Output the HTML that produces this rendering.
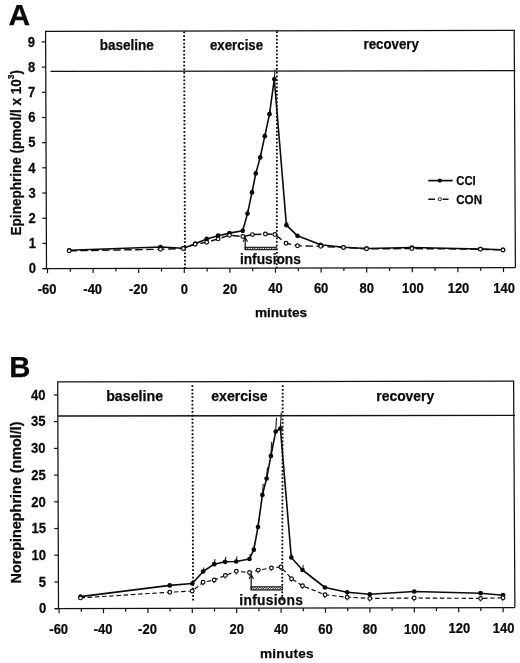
<!DOCTYPE html>
<html><head><meta charset="utf-8"><title>Figure</title>
<style>
html,body{margin:0;padding:0;background:#fff;}
svg{display:block;}
text{font-family:"Liberation Sans", Arial, Helvetica, sans-serif;font-weight:bold;fill:#0a0a0a;stroke:#0a0a0a;stroke-width:0.25px;}
</style></head><body>
<svg width="520" height="663" viewBox="0 0 520 663">
<rect width="520" height="663" fill="#fff"/>
<defs><pattern id="hatch" width="2.4" height="3" patternUnits="userSpaceOnUse"><rect width="2.4" height="3" fill="#fff"/><path d="M0,3 L2.4,0" stroke="#111" stroke-width="1"/></pattern></defs>
<text x="8.6" y="24.8" font-size="30" text-anchor="start">A</text>
<text x="9.2" y="377.3" font-size="29.3" text-anchor="start">B</text>
<path d="M46.5,268.6 L45.6,31.4 L514.2,30.4 L515.4,267.5" fill="none" stroke="#111" stroke-width="1.25" stroke-linejoin="miter"/>
<line x1="42.6" y1="268.6" x2="515.4" y2="267.5" stroke="#111" stroke-width="1.25"/>
<line x1="50.5" y1="71.4" x2="515.4" y2="70.6" stroke="#111" stroke-width="1.3"/>
<line x1="42.6" y1="268.6" x2="46.5" y2="268.6" stroke="#111" stroke-width="1.2"/>
<text transform="translate(36.0,273.3) scale(0.92,1)" font-size="14.2" text-anchor="end">0</text>
<line x1="42.5" y1="243.4" x2="46.4" y2="243.4" stroke="#111" stroke-width="1.2"/>
<text transform="translate(35.9,248.1) scale(0.92,1)" font-size="14.2" text-anchor="end">1</text>
<line x1="42.4" y1="218.2" x2="46.3" y2="218.2" stroke="#111" stroke-width="1.2"/>
<text transform="translate(35.8,222.9) scale(0.92,1)" font-size="14.2" text-anchor="end">2</text>
<line x1="42.3" y1="193.0" x2="46.2" y2="193.0" stroke="#111" stroke-width="1.2"/>
<text transform="translate(35.7,197.7) scale(0.92,1)" font-size="14.2" text-anchor="end">3</text>
<line x1="42.2" y1="167.8" x2="46.1" y2="167.8" stroke="#111" stroke-width="1.2"/>
<text transform="translate(35.6,172.5) scale(0.92,1)" font-size="14.2" text-anchor="end">4</text>
<line x1="42.1" y1="142.7" x2="46.0" y2="142.7" stroke="#111" stroke-width="1.2"/>
<text transform="translate(35.5,147.4) scale(0.92,1)" font-size="14.2" text-anchor="end">5</text>
<line x1="42.0" y1="117.5" x2="45.9" y2="117.5" stroke="#111" stroke-width="1.2"/>
<text transform="translate(35.4,122.2) scale(0.92,1)" font-size="14.2" text-anchor="end">6</text>
<line x1="41.9" y1="92.3" x2="45.8" y2="92.3" stroke="#111" stroke-width="1.2"/>
<text transform="translate(35.3,97.0) scale(0.92,1)" font-size="14.2" text-anchor="end">7</text>
<line x1="41.8" y1="67.1" x2="45.7" y2="67.1" stroke="#111" stroke-width="1.2"/>
<text transform="translate(35.2,71.8) scale(0.92,1)" font-size="14.2" text-anchor="end">8</text>
<line x1="41.7" y1="41.9" x2="45.6" y2="41.9" stroke="#111" stroke-width="1.2"/>
<text transform="translate(35.1,46.6) scale(0.92,1)" font-size="14.2" text-anchor="end">9</text>
<line x1="47.5" y1="268.6" x2="47.5" y2="273.2" stroke="#111" stroke-width="1.2"/>
<text transform="translate(47.1,293.9) scale(0.915,1)" font-size="14.2" text-anchor="middle">-60</text>
<line x1="70.3" y1="268.5" x2="70.3" y2="271.7" stroke="#111" stroke-width="1.2"/>
<line x1="93.1" y1="268.5" x2="93.1" y2="273.1" stroke="#111" stroke-width="1.2"/>
<text transform="translate(92.7,293.8) scale(0.915,1)" font-size="14.2" text-anchor="middle">-40</text>
<line x1="115.9" y1="268.4" x2="115.9" y2="271.6" stroke="#111" stroke-width="1.2"/>
<line x1="138.7" y1="268.4" x2="138.7" y2="273.0" stroke="#111" stroke-width="1.2"/>
<text transform="translate(138.3,293.7) scale(0.915,1)" font-size="14.2" text-anchor="middle">-20</text>
<line x1="161.5" y1="268.3" x2="161.5" y2="271.5" stroke="#111" stroke-width="1.2"/>
<line x1="184.3" y1="268.3" x2="184.3" y2="272.9" stroke="#111" stroke-width="1.2"/>
<text transform="translate(184.3,293.6) scale(0.915,1)" font-size="14.2" text-anchor="middle">0</text>
<line x1="207.1" y1="268.2" x2="207.1" y2="271.4" stroke="#111" stroke-width="1.2"/>
<line x1="229.9" y1="268.2" x2="229.9" y2="272.8" stroke="#111" stroke-width="1.2"/>
<text transform="translate(229.9,293.5) scale(0.915,1)" font-size="14.2" text-anchor="middle">20</text>
<line x1="252.7" y1="268.1" x2="252.7" y2="271.3" stroke="#111" stroke-width="1.2"/>
<line x1="275.5" y1="268.1" x2="275.5" y2="272.7" stroke="#111" stroke-width="1.2"/>
<text transform="translate(275.5,293.4) scale(0.915,1)" font-size="14.2" text-anchor="middle">40</text>
<line x1="298.3" y1="268.0" x2="298.3" y2="271.2" stroke="#111" stroke-width="1.2"/>
<line x1="321.1" y1="268.0" x2="321.1" y2="272.6" stroke="#111" stroke-width="1.2"/>
<text transform="translate(321.1,293.3) scale(0.915,1)" font-size="14.2" text-anchor="middle">60</text>
<line x1="343.9" y1="267.9" x2="343.9" y2="271.1" stroke="#111" stroke-width="1.2"/>
<line x1="366.7" y1="267.8" x2="366.7" y2="272.4" stroke="#111" stroke-width="1.2"/>
<text transform="translate(366.7,293.2) scale(0.915,1)" font-size="14.2" text-anchor="middle">80</text>
<line x1="389.5" y1="267.8" x2="389.5" y2="271.0" stroke="#111" stroke-width="1.2"/>
<line x1="412.3" y1="267.7" x2="412.3" y2="272.3" stroke="#111" stroke-width="1.2"/>
<text transform="translate(412.9,293.1) scale(0.915,1)" font-size="14.2" text-anchor="middle">100</text>
<line x1="435.1" y1="267.7" x2="435.1" y2="270.9" stroke="#111" stroke-width="1.2"/>
<line x1="457.9" y1="267.6" x2="457.9" y2="272.2" stroke="#111" stroke-width="1.2"/>
<text transform="translate(458.5,293.0) scale(0.915,1)" font-size="14.2" text-anchor="middle">120</text>
<line x1="480.7" y1="267.6" x2="480.7" y2="270.8" stroke="#111" stroke-width="1.2"/>
<line x1="503.5" y1="267.5" x2="503.5" y2="272.1" stroke="#111" stroke-width="1.2"/>
<text transform="translate(504.1,292.9) scale(0.915,1)" font-size="14.2" text-anchor="middle">140</text>
<line x1="184.1" y1="31.6" x2="185.0" y2="268" stroke="#0a0a0a" stroke-width="1.85" stroke-dasharray="1.75 1.93"/>
<line x1="276.9" y1="31.3" x2="276.8" y2="268" stroke="#0a0a0a" stroke-width="1.85" stroke-dasharray="1.75 1.93"/>
<line x1="242.7" y1="230.8" x2="243.5" y2="227.8" stroke="#1a1a1a" stroke-width="1.1"/>
<line x1="247.5" y1="213.6" x2="248.3" y2="209.6" stroke="#1a1a1a" stroke-width="1.1"/>
<line x1="252.0" y1="192.4" x2="252.8" y2="188.4" stroke="#1a1a1a" stroke-width="1.1"/>
<line x1="255.8" y1="173.4" x2="256.6" y2="169.4" stroke="#1a1a1a" stroke-width="1.1"/>
<line x1="260.2" y1="157.4" x2="261.0" y2="153.4" stroke="#1a1a1a" stroke-width="1.1"/>
<line x1="264.8" y1="136.2" x2="265.6" y2="132.2" stroke="#1a1a1a" stroke-width="1.1"/>
<line x1="269.5" y1="114.2" x2="270.3" y2="110.2" stroke="#1a1a1a" stroke-width="1.1"/>
<line x1="274.3" y1="79.0" x2="275.1" y2="69.5" stroke="#1a1a1a" stroke-width="1.1"/>
<line x1="286.4" y1="225.2" x2="287.2" y2="222.2" stroke="#1a1a1a" stroke-width="1.1"/>
<polyline points="69.2,250.8 160.5,249.3 183.4,248.5 195.2,244.2 206.7,242.3 218.1,238.9 229.5,235.2 242.8,236.5 252.4,234.6 265.4,234.0 274.8,234.4 286.0,243.3 297.5,245.8 320.7,246.3 343.5,247.6 366.5,248.8 411.8,248.6 480.4,249.2 503.0,250.0" fill="none" stroke="#0a0a0a" stroke-width="1.4" stroke-dasharray="7.5 3.5"/>
<polyline points="69.2,250.3 160.5,247.0 183.5,248.2 195.2,243.7 206.7,238.9 218.1,235.7 229.5,233.1 242.7,230.8 247.5,213.6 252.0,192.4 255.8,173.4 260.2,157.4 264.8,136.2 269.5,114.2 274.3,79.0 286.4,225.2 297.5,235.8 320.7,244.8 343.5,247.3 366.5,248.5 411.8,247.5 480.4,249.0 503.0,249.8" fill="none" stroke="#0a0a0a" stroke-width="1.6" stroke-linejoin="round"/>
<circle cx="69.2" cy="250.3" r="2.35" fill="#0a0a0a"/>
<circle cx="160.5" cy="247.0" r="2.35" fill="#0a0a0a"/>
<circle cx="183.5" cy="248.2" r="2.35" fill="#0a0a0a"/>
<circle cx="195.2" cy="243.7" r="2.35" fill="#0a0a0a"/>
<circle cx="206.7" cy="238.9" r="2.35" fill="#0a0a0a"/>
<circle cx="218.1" cy="235.7" r="2.35" fill="#0a0a0a"/>
<circle cx="229.5" cy="233.1" r="2.35" fill="#0a0a0a"/>
<circle cx="242.7" cy="230.8" r="2.35" fill="#0a0a0a"/>
<circle cx="247.5" cy="213.6" r="2.35" fill="#0a0a0a"/>
<circle cx="252.0" cy="192.4" r="2.35" fill="#0a0a0a"/>
<circle cx="255.8" cy="173.4" r="2.35" fill="#0a0a0a"/>
<circle cx="260.2" cy="157.4" r="2.35" fill="#0a0a0a"/>
<circle cx="264.8" cy="136.2" r="2.35" fill="#0a0a0a"/>
<circle cx="269.5" cy="114.2" r="2.35" fill="#0a0a0a"/>
<circle cx="274.3" cy="79.0" r="2.35" fill="#0a0a0a"/>
<circle cx="286.4" cy="225.2" r="2.35" fill="#0a0a0a"/>
<circle cx="297.5" cy="235.8" r="2.35" fill="#0a0a0a"/>
<circle cx="320.7" cy="244.8" r="2.35" fill="#0a0a0a"/>
<circle cx="343.5" cy="247.3" r="2.35" fill="#0a0a0a"/>
<circle cx="366.5" cy="248.5" r="2.35" fill="#0a0a0a"/>
<circle cx="411.8" cy="247.5" r="2.35" fill="#0a0a0a"/>
<circle cx="480.4" cy="249.0" r="2.35" fill="#0a0a0a"/>
<circle cx="503.0" cy="249.8" r="2.35" fill="#0a0a0a"/>
<circle cx="69.2" cy="250.8" r="1.85" fill="#fff" stroke="#0a0a0a" stroke-width="1.2"/>
<circle cx="160.5" cy="249.3" r="1.85" fill="#fff" stroke="#0a0a0a" stroke-width="1.2"/>
<circle cx="183.4" cy="248.5" r="1.85" fill="#fff" stroke="#0a0a0a" stroke-width="1.2"/>
<circle cx="195.2" cy="244.2" r="1.85" fill="#fff" stroke="#0a0a0a" stroke-width="1.2"/>
<circle cx="206.7" cy="242.3" r="1.85" fill="#fff" stroke="#0a0a0a" stroke-width="1.2"/>
<circle cx="218.1" cy="238.9" r="1.85" fill="#fff" stroke="#0a0a0a" stroke-width="1.2"/>
<circle cx="229.5" cy="235.2" r="1.85" fill="#fff" stroke="#0a0a0a" stroke-width="1.2"/>
<circle cx="242.8" cy="236.5" r="1.85" fill="#fff" stroke="#0a0a0a" stroke-width="1.2"/>
<circle cx="252.4" cy="234.6" r="1.85" fill="#fff" stroke="#0a0a0a" stroke-width="1.2"/>
<circle cx="265.4" cy="234.0" r="1.85" fill="#fff" stroke="#0a0a0a" stroke-width="1.2"/>
<circle cx="274.8" cy="234.4" r="1.85" fill="#fff" stroke="#0a0a0a" stroke-width="1.2"/>
<circle cx="286.0" cy="243.3" r="1.85" fill="#fff" stroke="#0a0a0a" stroke-width="1.2"/>
<circle cx="297.5" cy="245.8" r="1.85" fill="#fff" stroke="#0a0a0a" stroke-width="1.2"/>
<circle cx="320.7" cy="246.3" r="1.85" fill="#fff" stroke="#0a0a0a" stroke-width="1.2"/>
<circle cx="343.5" cy="247.6" r="1.85" fill="#fff" stroke="#0a0a0a" stroke-width="1.2"/>
<circle cx="366.5" cy="248.8" r="1.85" fill="#fff" stroke="#0a0a0a" stroke-width="1.2"/>
<circle cx="411.8" cy="248.6" r="1.85" fill="#fff" stroke="#0a0a0a" stroke-width="1.2"/>
<circle cx="480.4" cy="249.2" r="1.85" fill="#fff" stroke="#0a0a0a" stroke-width="1.2"/>
<circle cx="503.0" cy="250.0" r="1.85" fill="#fff" stroke="#0a0a0a" stroke-width="1.2"/>
<text x="255.0" y="317.0" font-size="13.6" textLength="52.0" lengthAdjust="spacing">minutes</text>
<text x="99.7" y="49.8" font-size="13.8" text-anchor="start" textLength="54.2" lengthAdjust="spacingAndGlyphs">baseline</text>
<text x="210" y="49.8" font-size="13.8" text-anchor="start" textLength="53.1" lengthAdjust="spacingAndGlyphs">exercise</text>
<text x="363.5" y="49.3" font-size="13.8" text-anchor="start" textLength="55.3" lengthAdjust="spacingAndGlyphs">recovery</text>
<rect x="245.2" y="247.3" width="31.0" height="2.3999999999999773" fill="url(#hatch)" stroke="#111" stroke-width="1.1"/>
<line x1="245.2" y1="249.7" x2="245.2" y2="237.2" stroke="#111" stroke-width="1.25"/>
<path d="M243.1,241.79999999999998 L245.2,237.2 L247.5,241.79999999999998" fill="none" stroke="#111" stroke-width="1.1"/>
<text x="239.9" y="263.8" font-size="14.3" textLength="61.0" lengthAdjust="spacingAndGlyphs">infusions</text>
<text transform="translate(20.6,235.4) rotate(-90)" font-size="13.8" textLength="165.4" lengthAdjust="spacingAndGlyphs">Epinephrine (pmol/l x 10<tspan font-size="8.5" dy="-6.6">3</tspan><tspan dy="6.6">)</tspan></text>
<line x1="428.3" y1="180.6" x2="452.7" y2="180.6" stroke="#0a0a0a" stroke-width="1.7"/>
<circle cx="439.8" cy="180.6" r="2.1" fill="#0a0a0a"/>
<line x1="428.3" y1="199.2" x2="448.5" y2="199.2" stroke="#111" stroke-width="1.35" stroke-dasharray="6.7 5.6 0 2 6 0"/>
<circle cx="439.8" cy="199.2" r="1.6" fill="#fff" stroke="#111" stroke-width="0.9"/>
<text x="456.2" y="185" font-size="12.8" text-anchor="start" textLength="19.6" lengthAdjust="spacingAndGlyphs">CCI</text>
<text x="456.2" y="203.5" font-size="12.8" text-anchor="start" textLength="25.9" lengthAdjust="spacingAndGlyphs">CON</text>
<path d="M58.5,608.7 L57.7,381.9 L513.6,381.2 L514.9,607.6" fill="none" stroke="#111" stroke-width="1.25" stroke-linejoin="miter"/>
<line x1="54.6" y1="608.7" x2="514.9" y2="607.6" stroke="#111" stroke-width="1.25"/>
<line x1="57.9" y1="416" x2="514.9" y2="415.4" stroke="#111" stroke-width="1.3"/>
<line x1="54.6" y1="608.7" x2="58.5" y2="608.7" stroke="#111" stroke-width="1.2"/>
<text transform="translate(46.2,613.4) scale(0.92,1)" font-size="14.2" text-anchor="end">0</text>
<line x1="54.5" y1="582.0" x2="58.4" y2="582.0" stroke="#111" stroke-width="1.2"/>
<text transform="translate(46.1,586.7) scale(0.92,1)" font-size="14.2" text-anchor="end">5</text>
<line x1="54.4" y1="555.2" x2="58.3" y2="555.2" stroke="#111" stroke-width="1.2"/>
<text transform="translate(46.0,560.0) scale(0.92,1)" font-size="14.2" text-anchor="end">10</text>
<line x1="54.3" y1="528.5" x2="58.2" y2="528.5" stroke="#111" stroke-width="1.2"/>
<text transform="translate(45.9,533.2) scale(0.92,1)" font-size="14.2" text-anchor="end">15</text>
<line x1="54.2" y1="501.8" x2="58.1" y2="501.8" stroke="#111" stroke-width="1.2"/>
<text transform="translate(45.8,506.5) scale(0.92,1)" font-size="14.2" text-anchor="end">20</text>
<line x1="54.1" y1="475.1" x2="58.0" y2="475.1" stroke="#111" stroke-width="1.2"/>
<text transform="translate(45.7,479.8) scale(0.92,1)" font-size="14.2" text-anchor="end">25</text>
<line x1="54.0" y1="448.4" x2="57.9" y2="448.4" stroke="#111" stroke-width="1.2"/>
<text transform="translate(45.6,453.1) scale(0.92,1)" font-size="14.2" text-anchor="end">30</text>
<line x1="53.9" y1="421.6" x2="57.8" y2="421.6" stroke="#111" stroke-width="1.2"/>
<text transform="translate(45.5,426.3) scale(0.92,1)" font-size="14.2" text-anchor="end">35</text>
<line x1="53.8" y1="394.9" x2="57.7" y2="394.9" stroke="#111" stroke-width="1.2"/>
<text transform="translate(45.4,399.6) scale(0.92,1)" font-size="14.2" text-anchor="end">40</text>
<line x1="59.1" y1="608.7" x2="59.1" y2="613.3" stroke="#111" stroke-width="1.2"/>
<text transform="translate(58.7,634.3) scale(0.915,1)" font-size="14.2" text-anchor="middle">-60</text>
<line x1="81.3" y1="608.6" x2="81.3" y2="611.8" stroke="#111" stroke-width="1.2"/>
<line x1="103.5" y1="608.6" x2="103.5" y2="613.2" stroke="#111" stroke-width="1.2"/>
<text transform="translate(103.1,634.2) scale(0.915,1)" font-size="14.2" text-anchor="middle">-40</text>
<line x1="125.7" y1="608.5" x2="125.7" y2="611.7" stroke="#111" stroke-width="1.2"/>
<line x1="147.9" y1="608.5" x2="147.9" y2="613.1" stroke="#111" stroke-width="1.2"/>
<text transform="translate(147.5,634.1) scale(0.915,1)" font-size="14.2" text-anchor="middle">-20</text>
<line x1="170.1" y1="608.4" x2="170.1" y2="611.6" stroke="#111" stroke-width="1.2"/>
<line x1="192.3" y1="608.4" x2="192.3" y2="613.0" stroke="#111" stroke-width="1.2"/>
<text transform="translate(192.3,634.0) scale(0.915,1)" font-size="14.2" text-anchor="middle">0</text>
<line x1="214.5" y1="608.3" x2="214.5" y2="611.5" stroke="#111" stroke-width="1.2"/>
<line x1="236.7" y1="608.3" x2="236.7" y2="612.9" stroke="#111" stroke-width="1.2"/>
<text transform="translate(236.7,633.9) scale(0.915,1)" font-size="14.2" text-anchor="middle">20</text>
<line x1="258.9" y1="608.2" x2="258.9" y2="611.4" stroke="#111" stroke-width="1.2"/>
<line x1="281.1" y1="608.2" x2="281.1" y2="612.8" stroke="#111" stroke-width="1.2"/>
<text transform="translate(281.1,633.8) scale(0.915,1)" font-size="14.2" text-anchor="middle">40</text>
<line x1="303.3" y1="608.1" x2="303.3" y2="611.3" stroke="#111" stroke-width="1.2"/>
<line x1="325.5" y1="608.1" x2="325.5" y2="612.7" stroke="#111" stroke-width="1.2"/>
<text transform="translate(325.5,633.7) scale(0.915,1)" font-size="14.2" text-anchor="middle">60</text>
<line x1="347.7" y1="608.0" x2="347.7" y2="611.2" stroke="#111" stroke-width="1.2"/>
<line x1="369.9" y1="607.9" x2="369.9" y2="612.5" stroke="#111" stroke-width="1.2"/>
<text transform="translate(369.9,633.6) scale(0.915,1)" font-size="14.2" text-anchor="middle">80</text>
<line x1="392.1" y1="607.9" x2="392.1" y2="611.1" stroke="#111" stroke-width="1.2"/>
<line x1="414.3" y1="607.8" x2="414.3" y2="612.4" stroke="#111" stroke-width="1.2"/>
<text transform="translate(414.9,633.5) scale(0.915,1)" font-size="14.2" text-anchor="middle">100</text>
<line x1="436.5" y1="607.8" x2="436.5" y2="611.0" stroke="#111" stroke-width="1.2"/>
<line x1="458.7" y1="607.7" x2="458.7" y2="612.3" stroke="#111" stroke-width="1.2"/>
<text transform="translate(459.3,633.4) scale(0.915,1)" font-size="14.2" text-anchor="middle">120</text>
<line x1="480.9" y1="607.7" x2="480.9" y2="610.9" stroke="#111" stroke-width="1.2"/>
<line x1="503.1" y1="607.6" x2="503.1" y2="612.2" stroke="#111" stroke-width="1.2"/>
<text transform="translate(503.7,633.3) scale(0.915,1)" font-size="14.2" text-anchor="middle">140</text>
<line x1="192.4" y1="385.3" x2="193.1" y2="600.8" stroke="#0a0a0a" stroke-width="1.85" stroke-dasharray="1.75 1.93"/>
<line x1="282.7" y1="385.3" x2="282.2" y2="600.8" stroke="#0a0a0a" stroke-width="1.85" stroke-dasharray="1.75 1.93"/>
<line x1="203.1" y1="571.5" x2="203.9" y2="567.5" stroke="#1a1a1a" stroke-width="1.1"/>
<line x1="214.2" y1="564.2" x2="215.0" y2="559.2" stroke="#1a1a1a" stroke-width="1.1"/>
<line x1="225.1" y1="561.8" x2="225.9" y2="556.8" stroke="#1a1a1a" stroke-width="1.1"/>
<line x1="236.2" y1="561.5" x2="237.0" y2="556.5" stroke="#1a1a1a" stroke-width="1.1"/>
<line x1="249.5" y1="559.0" x2="250.3" y2="554.0" stroke="#1a1a1a" stroke-width="1.1"/>
<line x1="253.8" y1="549.7" x2="254.6" y2="543.7" stroke="#1a1a1a" stroke-width="1.1"/>
<line x1="258.0" y1="527.0" x2="258.8" y2="519.0" stroke="#1a1a1a" stroke-width="1.1"/>
<line x1="262.4" y1="494.9" x2="263.2" y2="483.9" stroke="#1a1a1a" stroke-width="1.1"/>
<line x1="266.6" y1="478.5" x2="267.4" y2="467.5" stroke="#1a1a1a" stroke-width="1.1"/>
<line x1="270.9" y1="455.9" x2="271.7" y2="441.9" stroke="#1a1a1a" stroke-width="1.1"/>
<line x1="275.7" y1="431.6" x2="276.5" y2="417.6" stroke="#1a1a1a" stroke-width="1.1"/>
<line x1="280.4" y1="428.5" x2="281.2" y2="412.5" stroke="#1a1a1a" stroke-width="1.1"/>
<line x1="291.3" y1="557.5" x2="292.1" y2="554.5" stroke="#1a1a1a" stroke-width="1.1"/>
<line x1="302.5" y1="570.0" x2="303.3" y2="565.0" stroke="#1a1a1a" stroke-width="1.1"/>
<line x1="203.1" y1="582.3" x2="202.8" y2="585.6" stroke="#222" stroke-width="0.9"/>
<line x1="214.2" y1="580.0" x2="213.9" y2="583.3" stroke="#222" stroke-width="0.9"/>
<line x1="225.3" y1="575.4" x2="225.0" y2="578.7" stroke="#222" stroke-width="0.9"/>
<line x1="236.3" y1="571.3" x2="236.0" y2="574.6" stroke="#222" stroke-width="0.9"/>
<line x1="249.5" y1="572.5" x2="249.2" y2="575.8" stroke="#222" stroke-width="0.9"/>
<line x1="258.3" y1="570.1" x2="258.0" y2="573.4" stroke="#222" stroke-width="0.9"/>
<line x1="271.4" y1="567.9" x2="271.1" y2="571.2" stroke="#222" stroke-width="0.9"/>
<line x1="280.9" y1="566.9" x2="280.6" y2="570.2" stroke="#222" stroke-width="0.9"/>
<line x1="291.5" y1="578.7" x2="291.2" y2="582.0" stroke="#222" stroke-width="0.9"/>
<line x1="302.5" y1="585.8" x2="302.2" y2="589.1" stroke="#222" stroke-width="0.9"/>
<line x1="325.1" y1="594.8" x2="324.8" y2="598.1" stroke="#222" stroke-width="0.9"/>
<line x1="347.2" y1="597.2" x2="346.9" y2="600.5" stroke="#222" stroke-width="0.9"/>
<line x1="369.8" y1="598.4" x2="369.5" y2="601.7" stroke="#222" stroke-width="0.9"/>
<line x1="414.2" y1="598.0" x2="413.9" y2="601.3" stroke="#222" stroke-width="0.9"/>
<line x1="480.6" y1="598.4" x2="480.3" y2="601.7" stroke="#222" stroke-width="0.9"/>
<line x1="503.0" y1="597.7" x2="502.7" y2="601.0" stroke="#222" stroke-width="0.9"/>
<polyline points="80.5,597.9 169.8,592.2 192.2,591.0 203.1,582.3 214.2,580.0 225.3,575.4 236.3,571.3 249.5,572.5 258.3,570.1 271.4,567.9 280.9,566.9 291.5,578.7 302.5,585.8 325.1,594.8 347.2,597.2 369.8,598.4 414.2,598.0 480.6,598.4 503.0,597.7" fill="none" stroke="#0a0a0a" stroke-width="1.15" stroke-dasharray="4.5 2.7"/>
<polyline points="80.5,596.6 169.8,585.4 192.3,583.5 203.1,571.5 214.2,564.2 225.1,561.8 236.2,561.5 249.5,559.0 253.8,549.7 258.0,527.0 262.4,494.9 266.6,478.5 270.9,455.9 275.7,431.6 280.4,428.5 291.3,557.5 302.5,570.0 325.0,587.5 347.2,592.3 369.8,594.3 414.2,591.5 480.6,593.2 503.0,595.2" fill="none" stroke="#0a0a0a" stroke-width="1.6" stroke-linejoin="round"/>
<circle cx="80.5" cy="596.6" r="2.35" fill="#0a0a0a"/>
<circle cx="169.8" cy="585.4" r="2.35" fill="#0a0a0a"/>
<circle cx="192.3" cy="583.5" r="2.35" fill="#0a0a0a"/>
<circle cx="203.1" cy="571.5" r="2.35" fill="#0a0a0a"/>
<circle cx="214.2" cy="564.2" r="2.35" fill="#0a0a0a"/>
<circle cx="225.1" cy="561.8" r="2.35" fill="#0a0a0a"/>
<circle cx="236.2" cy="561.5" r="2.35" fill="#0a0a0a"/>
<circle cx="249.5" cy="559.0" r="2.35" fill="#0a0a0a"/>
<circle cx="253.8" cy="549.7" r="2.35" fill="#0a0a0a"/>
<circle cx="258.0" cy="527.0" r="2.35" fill="#0a0a0a"/>
<circle cx="262.4" cy="494.9" r="2.35" fill="#0a0a0a"/>
<circle cx="266.6" cy="478.5" r="2.35" fill="#0a0a0a"/>
<circle cx="270.9" cy="455.9" r="2.35" fill="#0a0a0a"/>
<circle cx="275.7" cy="431.6" r="2.35" fill="#0a0a0a"/>
<circle cx="280.4" cy="428.5" r="2.35" fill="#0a0a0a"/>
<circle cx="291.3" cy="557.5" r="2.35" fill="#0a0a0a"/>
<circle cx="302.5" cy="570.0" r="2.35" fill="#0a0a0a"/>
<circle cx="325.0" cy="587.5" r="2.35" fill="#0a0a0a"/>
<circle cx="347.2" cy="592.3" r="2.35" fill="#0a0a0a"/>
<circle cx="369.8" cy="594.3" r="2.35" fill="#0a0a0a"/>
<circle cx="414.2" cy="591.5" r="2.35" fill="#0a0a0a"/>
<circle cx="480.6" cy="593.2" r="2.35" fill="#0a0a0a"/>
<circle cx="503.0" cy="595.2" r="2.35" fill="#0a0a0a"/>
<circle cx="80.5" cy="597.9" r="1.85" fill="#fff" stroke="#0a0a0a" stroke-width="1.2"/>
<circle cx="169.8" cy="592.2" r="1.85" fill="#fff" stroke="#0a0a0a" stroke-width="1.2"/>
<circle cx="192.2" cy="591.0" r="1.85" fill="#fff" stroke="#0a0a0a" stroke-width="1.2"/>
<circle cx="203.1" cy="582.3" r="1.85" fill="#fff" stroke="#0a0a0a" stroke-width="1.2"/>
<circle cx="214.2" cy="580.0" r="1.85" fill="#fff" stroke="#0a0a0a" stroke-width="1.2"/>
<circle cx="225.3" cy="575.4" r="1.85" fill="#fff" stroke="#0a0a0a" stroke-width="1.2"/>
<circle cx="236.3" cy="571.3" r="1.85" fill="#fff" stroke="#0a0a0a" stroke-width="1.2"/>
<circle cx="249.5" cy="572.5" r="1.85" fill="#fff" stroke="#0a0a0a" stroke-width="1.2"/>
<circle cx="258.3" cy="570.1" r="1.85" fill="#fff" stroke="#0a0a0a" stroke-width="1.2"/>
<circle cx="271.4" cy="567.9" r="1.85" fill="#fff" stroke="#0a0a0a" stroke-width="1.2"/>
<circle cx="280.9" cy="566.9" r="1.85" fill="#fff" stroke="#0a0a0a" stroke-width="1.2"/>
<circle cx="291.5" cy="578.7" r="1.85" fill="#fff" stroke="#0a0a0a" stroke-width="1.2"/>
<circle cx="302.5" cy="585.8" r="1.85" fill="#fff" stroke="#0a0a0a" stroke-width="1.2"/>
<circle cx="325.1" cy="594.8" r="1.85" fill="#fff" stroke="#0a0a0a" stroke-width="1.2"/>
<circle cx="347.2" cy="597.2" r="1.85" fill="#fff" stroke="#0a0a0a" stroke-width="1.2"/>
<circle cx="369.8" cy="598.4" r="1.85" fill="#fff" stroke="#0a0a0a" stroke-width="1.2"/>
<circle cx="414.2" cy="598.0" r="1.85" fill="#fff" stroke="#0a0a0a" stroke-width="1.2"/>
<circle cx="480.6" cy="598.4" r="1.85" fill="#fff" stroke="#0a0a0a" stroke-width="1.2"/>
<circle cx="503.0" cy="597.7" r="1.85" fill="#fff" stroke="#0a0a0a" stroke-width="1.2"/>
<text x="260.0" y="658.0" font-size="13.6" textLength="53.6" lengthAdjust="spacing">minutes</text>
<text x="106.2" y="401.3" font-size="14" text-anchor="start" textLength="56.9" lengthAdjust="spacingAndGlyphs">baseline</text>
<text x="211.2" y="401.3" font-size="14" text-anchor="start" textLength="56.5" lengthAdjust="spacingAndGlyphs">exercise</text>
<text x="376.3" y="401.1" font-size="14" text-anchor="start" textLength="57.9" lengthAdjust="spacingAndGlyphs">recovery</text>
<rect x="251.2" y="586.8" width="31.19999999999999" height="3.2000000000000455" fill="url(#hatch)" stroke="#111" stroke-width="1.1"/>
<line x1="251.2" y1="590.0" x2="251.2" y2="574.4" stroke="#111" stroke-width="1.25"/>
<path d="M249.1,579.0 L251.2,574.4 L253.5,579.0" fill="none" stroke="#111" stroke-width="1.1"/>
<text x="239.3" y="604.5" font-size="13.8" textLength="63.6" lengthAdjust="spacing">infusions</text>
<text transform="translate(20.9,583.4) rotate(-90)" font-size="13.9" textLength="162" lengthAdjust="spacingAndGlyphs">Norepinephrine (nmol/l)</text>
</svg>
</body></html>
